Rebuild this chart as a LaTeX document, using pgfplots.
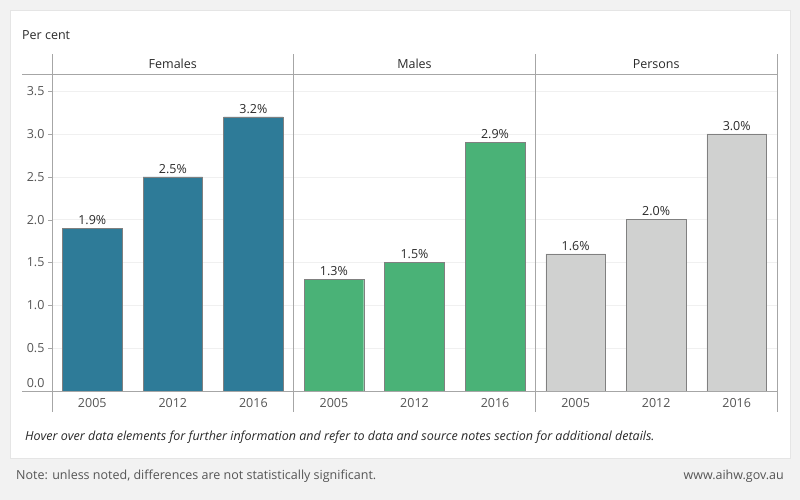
\documentclass[border=0pt]{standalone}
\usepackage{fontspec}
\setmainfont{Open Sans}
\usepackage{pgfplots}
\pgfplotsset{compat=1.18}
\definecolor{fem}{HTML}{2E7B98}
\definecolor{mal}{HTML}{4AB277}
\definecolor{per}{HTML}{D0D1D0}
\definecolor{edge}{HTML}{808080}
\definecolor{frame}{HTML}{A6A6A6}
\definecolor{txt}{HTML}{2A2A2A}
\definecolor{tick}{HTML}{555555}
\definecolor{bg}{HTML}{F2F2F2}

\begin{document}
\begin{tikzpicture}[x=1pt,y=1pt,font=\fontsize{12.5}{15}\selectfont]
  % page and white panel
  \fill[bg] (0,0) rectangle (800,500);
  \draw[gray!20,fill=white] (10,42) rectangle (790,490);

  \begin{axis}[
    at={(52pt,109pt)}, anchor=origin,
    scale only axis, width=725pt, height=317pt,
    xmin=0, xmax=9, ymin=0, ymax=3.7,
    ybar, bar width=0.74, bar shift=0pt,
    axis line style={draw=frame},
    xtick={0.5,1.5,...,8.5},
    xticklabels={2005,2012,2016,2005,2012,2016,2005,2012,2016},
    x tick style={draw=none},
    ytick={0.5,1,...,3.5},
    extra y ticks={0},
    extra y tick style={yticklabel style={yshift=8pt}, grid=none},
    tick pos=left, tick align=outside,
    y tick style={draw=frame},
    major tick length=4pt,
    ymajorgrids, grid style={draw=gray!12},
    tick label style={text=tick, font=\fontsize{12.5}{15}\selectfont},
    /pgf/number format/assume math mode=true,
    yticklabel={\pgfmathprintnumber[fixed,fixed zerofill,precision=1]{\tick}},
    nodes near coords={\pgfmathprintnumber[fixed,fixed zerofill,precision=1]{\pgfplotspointmeta}\%},
    every node near coord/.append style={text=txt, font=\fontsize{12.5}{15}\selectfont},
  ]
    % Females
    \addplot[fill=fem, draw=edge] coordinates {(0.5,1.9) (1.5,2.5) (2.5,3.2)};
    % Males
    \addplot[fill=mal, draw=edge] coordinates {(3.5,1.3) (4.5,1.5) (5.5,2.9)};
    % Persons
    \addplot[fill=per, draw=edge] coordinates {(6.5,1.6) (7.5,2.0) (8.5,3.0)};
  \end{axis}

  % panel separators and header
  \foreach \xx in {52,293.67,535.33,777} \draw[frame] (\xx,88) -- (\xx,446);
  \draw[frame] (22,426) -- (777,426);
  \draw[frame] (22,109) -- (777,109);
  \node[text=txt] at (172.8,436) {Females};
  \node[text=txt] at (414.5,436) {Males};
  \node[text=txt] at (656.2,436) {Persons};
  \node[text=txt, anchor=west, inner sep=0] at (22,465) {Per cent};

  % notes
  \node[text=txt, anchor=west, inner sep=0] at (25,63)
    {\itshape Hover over data elements for further information and refer to data and source notes section for additional details.};
  \node[text=tick, anchor=west, inner sep=0] at (16,24)
    {Note: unless noted, differences are not statistically significant.};
  \node[text=tick, anchor=east, inner sep=0] at (784,24) {www.aihw.gov.au};
\end{tikzpicture}
\end{document}
